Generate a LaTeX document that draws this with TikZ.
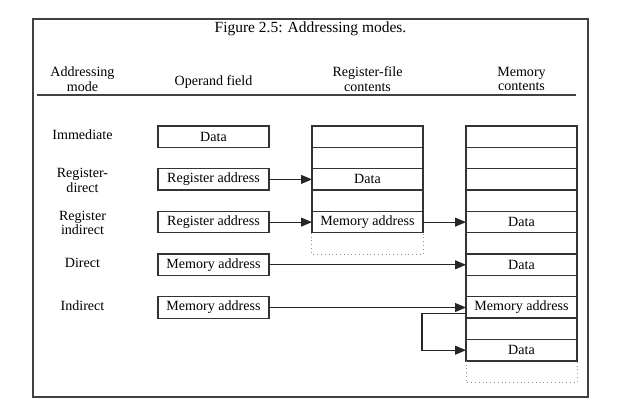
\documentclass[tikz,border=0pt]{standalone}
\usepackage{fontspec}
\setmainfont{Liberation Serif}
\usetikzlibrary{arrows.meta}

\begin{document}
\begin{tikzpicture}[x=0.025cm,y=-0.025cm,font=\fontsize{10}{10.5}\selectfont,
  >={Triangle[length=2.7mm,width=2.2mm]},
  cell/.style={draw=black!80,line width=0.9pt,minimum width=2.775cm,minimum height=0.534cm,inner sep=0pt,outer sep=0pt},
  free/.style={minimum width=2.775cm,minimum height=0.534cm,inner sep=0pt,outer sep=0pt},
  lbl/.style={align=center},
  arr/.style={->,line width=0.8pt,draw=black!85},
  dots/.style={dotted,draw=black!45,line width=0.7pt}]
  \useasboundingbox (0,0) rectangle (637,410);
  \draw[line width=1pt,black!75] (33,19) rectangle (588,397);
  \node[font=\fontsize{11}{13}\selectfont] (title) at (310.5,29) {Figure 2.5: Addressing modes.};
  % column heads
  \node[lbl] (hmode) at (82.5,79) {Addressing\\mode};
  \node[lbl] (hop) at (213.5,82) {Operand field};
  \node[lbl] (hreg) at (367.5,79) {Register-file\\contents};
  \node[lbl] (hmem) at (521.5,79) {Memory\\contents};
  \draw[line width=1.2pt,black!75] (37,95) -- (576,95);
  % modes
  \node[lbl] (immediate) at (82.5,135) {Immediate};
  \node[lbl] (regdirect) at (82.5,180.5) {Register-\\direct};
  \node[lbl] (regindirect) at (82.5,223) {Register\\indirect};
  \node[lbl] (direct) at (82.5,263) {Direct};
  \node[lbl] (indirect) at (82.5,306) {Indirect};
  % operand field
  \node[cell] (op1) at (213.5,136.7) {Data};
  \node[cell] (op2) at (213.5,179.4) {Register address};
  \node[cell] (op3) at (213.5,222.1) {Register address};
  \node[cell] (op4) at (213.5,264.8) {Memory address};
  \node[cell] (op5) at (213.5,307.5) {Memory address};
  % register file
  \node[cell] (r1) at (367.5,136.7) {};
  \node[cell] (r2) at (367.5,158.0) {};
  \node[cell] (r3) at (367.5,179.4) {Data};
  \node[cell] (r4) at (367.5,200.7) {};
  \node[cell] (r5) at (367.5,222.1) {Memory address};
  \node[free] (r6) at (367.5,243.4) {};
  \draw[dots] (r6.north west) |- (r6.south east) -- (r6.north east);
  % memory
  \node[cell] (m1) at (521.5,136.7) {};
  \node[cell] (m2) at (521.5,158.0) {};
  \node[cell] (m3) at (521.5,179.4) {};
  \node[cell] (m4) at (521.5,200.7) {};
  \node[cell] (m5) at (521.5,222.1) {Data};
  \node[cell] (m6) at (521.5,243.4) {};
  \node[cell] (m7) at (521.5,264.8) {Data};
  \node[cell] (m8) at (521.5,286.1) {};
  \node[cell] (m9) at (521.5,307.5) {Memory address};
  \node[cell] (m10) at (521.5,328.8) {};
  \node[cell] (m11) at (521.5,350.2) {Data};
  \node[free] (m12) at (521.5,371.5) {};
  \draw[dots] (m12.north west) |- (m12.south east) -- (m12.north east);
  % arrows
  \draw[arr] (op2) -- (r3);
  \draw[arr] (op3) -- (r5);
  \draw[arr] (r5) -- (m5);
  \draw[arr] (op4) -- (m7);
  \draw[arr] (op5) -- (m9);
  \draw[arr] ([yshift=-0.16cm]m9.west) -- ++(-44,0) |- (m11);
\end{tikzpicture}
\end{document}
